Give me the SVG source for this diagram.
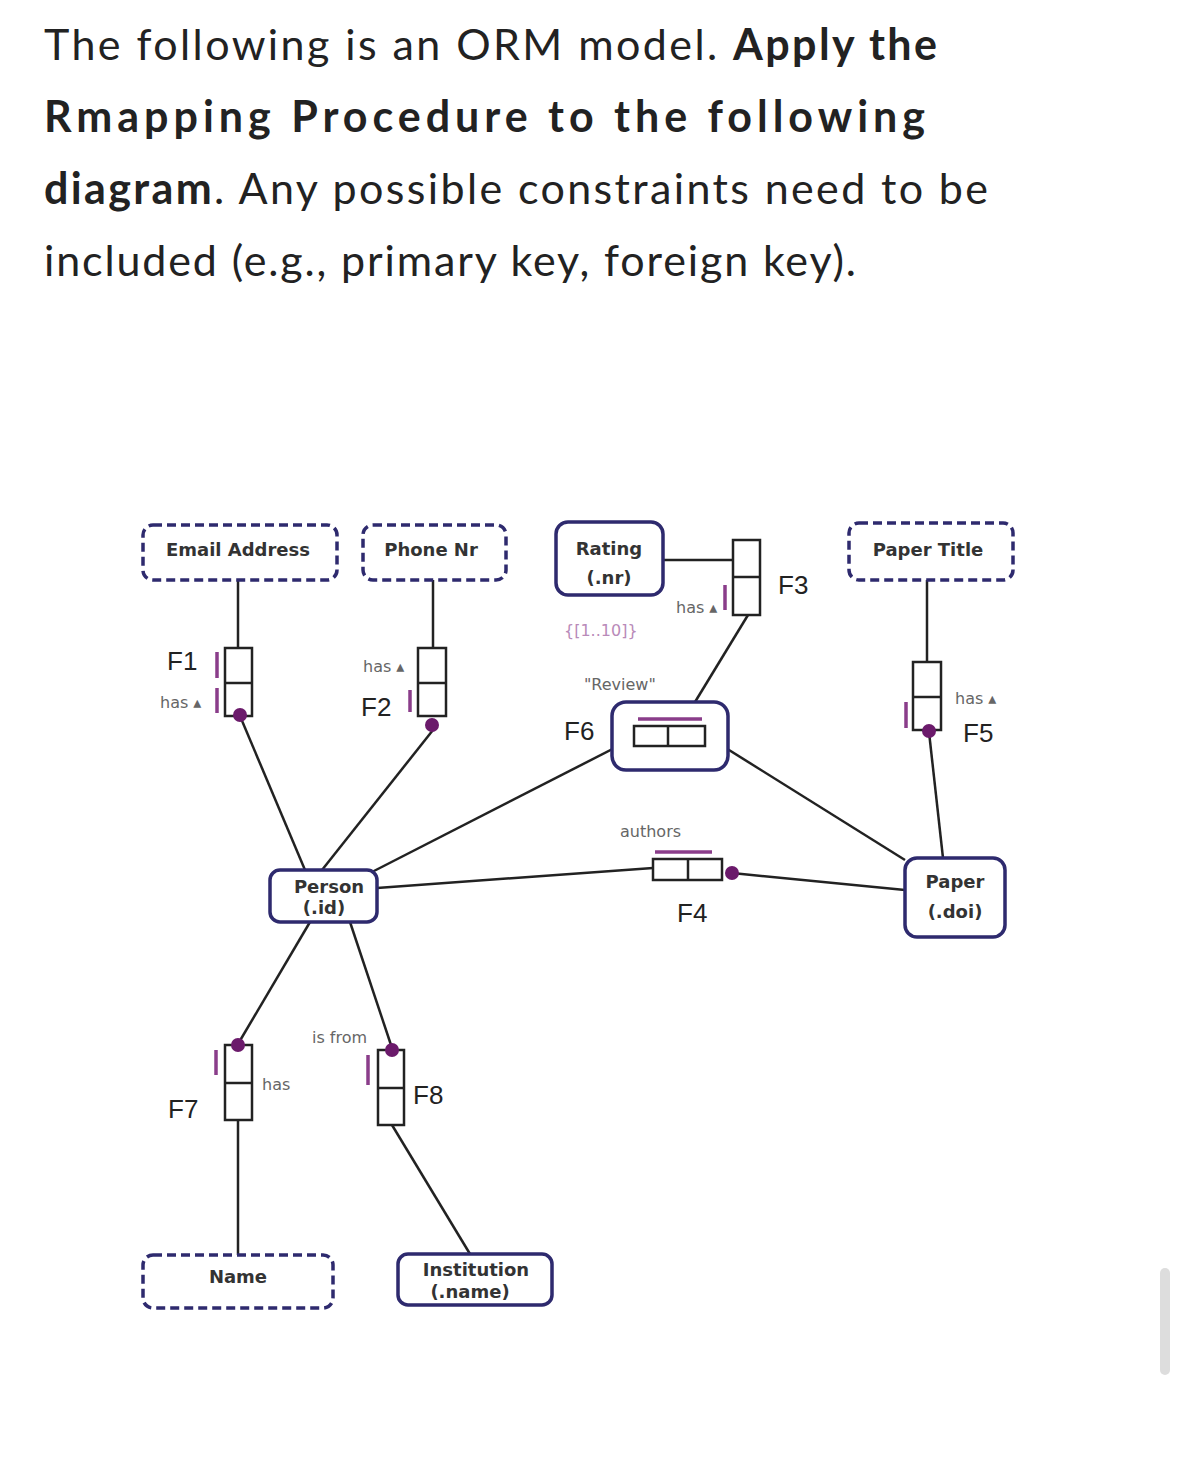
<svg xmlns="http://www.w3.org/2000/svg" width="1179" height="1465" viewBox="0 0 1179 1465">
<style>
.t{font-family:Lato,"Open Sans",sans-serif;font-size:43px;fill:#222}
.b{font-weight:bold}
.ent{fill:#fff;stroke:#2e2a6e;stroke-width:3.5}
.val{fill:#fff;stroke:#2e2a6e;stroke-width:3.5;stroke-dasharray:9 5}
.en{font-family:"DejaVu Sans",sans-serif;font-weight:bold;font-size:18px;fill:#333;text-anchor:middle}
.role{fill:#fff;stroke:#222;stroke-width:2.5}
.ln{stroke:#222;stroke-width:2.5;fill:none}
.uc{stroke:#8a3d8a;stroke-width:3.5}
.dot{fill:#6b1a6b}
.f{font-family:"Liberation Sans",Arial,sans-serif;font-size:26px;fill:#222}
.rd{font-family:"DejaVu Sans",sans-serif;font-size:16px;fill:#666}
</style>
<rect width="1179" height="1465" fill="#fff"/>
<text class="t" x="44" y="60" textLength="893" lengthAdjust="spacing">The following is an ORM model. <tspan class="b">Apply the</tspan></text>
<text class="t b" x="44" y="132" textLength="881" lengthAdjust="spacing">Rmapping Procedure to the following</text>
<text class="t" x="44" y="204" textLength="944" lengthAdjust="spacing"><tspan class="b">diagram</tspan>. Any possible constraints need to be</text>
<text class="t" x="44" y="276" textLength="812" lengthAdjust="spacing">included (e.g., primary key, foreign key).</text>
<g id="connectors">
<line class="ln" x1="238" y1="580" x2="238" y2="648"/>
<line class="ln" x1="433" y1="580" x2="433" y2="648"/>
<line class="ln" x1="663" y1="560" x2="733" y2="560"/>
<line class="ln" x1="748" y1="615" x2="695" y2="702"/>
<line class="ln" x1="927" y1="580" x2="927" y2="662"/>
<line class="ln" x1="240" y1="716" x2="305" y2="870"/>
<line class="ln" x1="433" y1="730" x2="322" y2="870"/>
<line class="ln" x1="372" y1="872" x2="634" y2="738"/>
<line class="ln" x1="705" y1="735" x2="905" y2="860"/>
<line class="ln" x1="377" y1="888" x2="653" y2="868"/>
<line class="ln" x1="732" y1="873" x2="905" y2="890"/>
<line class="ln" x1="929" y1="732" x2="943" y2="858"/>
<line class="ln" x1="310" y1="922" x2="238" y2="1044"/>
<line class="ln" x1="350" y1="922" x2="392" y2="1048"/>
<line class="ln" x1="238" y1="1120" x2="238" y2="1255"/>
<line class="ln" x1="392" y1="1125" x2="470" y2="1254"/>
</g>
<g id="email"><rect class="val" x="143" y="525" width="194" height="55" rx="10"/><text class="en" x="238" y="556">Email Address</text></g>
<g id="phone"><rect class="val" x="363" y="525" width="143" height="55" rx="10"/><text class="en" x="431" y="556">Phone Nr</text></g>
<g id="rating"><rect class="ent" x="556" y="522" width="107" height="73" rx="12"/><text class="en" x="609" y="555">Rating</text><text class="en" x="609" y="584">(.nr)</text><text class="rd" x="564" y="636" style="fill:#b98ab9">{[1..10]}</text></g>
<g id="papertitle"><rect class="val" x="849" y="523" width="164" height="57" rx="10"/><text class="en" x="928" y="556">Paper Title</text></g>
<g id="F1"><rect class="role" x="225" y="648" width="27" height="68"/><line class="ln" x1="225" y1="683" x2="252" y2="683"/><line class="uc" x1="217" y1="652" x2="217" y2="678"/><line class="uc" x1="217" y1="688" x2="217" y2="713"/><circle class="dot" cx="240" cy="715" r="7"/><text class="f" x="167" y="670">F1</text><text class="rd" x="160" y="708">has ▴</text></g>
<g id="F2"><rect class="role" x="418" y="648" width="28" height="68"/><line class="ln" x1="418" y1="683" x2="446" y2="683"/><line class="uc" x1="410" y1="690" x2="410" y2="712"/><circle class="dot" cx="432" cy="725" r="7"/><text class="rd" x="363" y="672">has ▴</text><text class="f" x="361" y="716">F2</text></g>
<g id="F3"><rect class="role" x="733" y="540" width="27" height="75"/><line class="ln" x1="733" y1="577" x2="760" y2="577"/><line class="uc" x1="725" y1="585" x2="725" y2="610"/><text class="rd" x="676" y="613">has ▴</text><text class="f" x="778" y="594">F3</text></g>
<g id="F6"><rect class="ent" x="612" y="702" width="116" height="68" rx="14"/><line class="uc" x1="638" y1="719" x2="702" y2="719"/><rect class="role" x="634" y="726" width="71" height="20"/><line class="ln" x1="668" y1="726" x2="668" y2="746"/><text class="rd" x="584" y="690">"Review"</text><text class="f" x="564" y="740">F6</text></g>
<g id="F5"><rect class="role" x="913" y="662" width="28" height="68"/><line class="ln" x1="913" y1="697" x2="941" y2="697"/><line class="uc" x1="906" y1="702" x2="906" y2="728"/><circle class="dot" cx="929" cy="731" r="7"/><text class="rd" x="955" y="704">has ▴</text><text class="f" x="963" y="742">F5</text></g>
<g id="person"><rect class="ent" x="270" y="870" width="107" height="52" rx="10"/><text class="en" x="329" y="893">Person</text><text class="en" x="324" y="914">(.id)</text></g>
<g id="F4"><line class="uc" x1="655" y1="852" x2="712" y2="852"/><rect class="role" x="653" y="859" width="69" height="21"/><line class="ln" x1="688" y1="859" x2="688" y2="880"/><circle class="dot" cx="732" cy="873" r="7"/><text class="rd" x="620" y="837">authors</text><text class="f" x="677" y="922">F4</text></g>
<g id="paper"><rect class="ent" x="905" y="858" width="100" height="79" rx="12"/><text class="en" x="955" y="888">Paper</text><text class="en" x="955" y="918">(.doi)</text></g>
<g id="F7"><rect class="role" x="225" y="1045" width="27" height="75"/><line class="ln" x1="225" y1="1083" x2="252" y2="1083"/><line class="uc" x1="216" y1="1050" x2="216" y2="1075"/><circle class="dot" cx="238" cy="1045" r="7"/><text class="rd" x="262" y="1090">has</text><text class="f" x="168" y="1118">F7</text></g>
<g id="F8"><rect class="role" x="378" y="1050" width="26" height="75"/><line class="ln" x1="378" y1="1088" x2="404" y2="1088"/><line class="uc" x1="368" y1="1055" x2="368" y2="1085"/><circle class="dot" cx="392" cy="1050" r="7"/><text class="rd" x="312" y="1043">is from</text><text class="f" x="413" y="1104">F8</text></g>
<g id="name"><rect class="val" x="143" y="1255" width="190" height="53" rx="10"/><text class="en" x="238" y="1283">Name</text></g>
<g id="institution"><rect class="ent" x="398" y="1254" width="154" height="51" rx="10"/><text class="en" x="476" y="1276">Institution</text><text class="en" x="470" y="1298">(.name)</text></g>
<rect x="1160" y="1268" width="10" height="107" rx="5" fill="#ddd"/>
</svg>
